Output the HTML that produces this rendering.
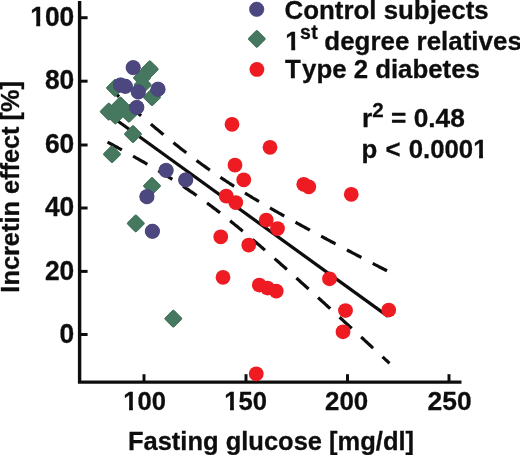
<!DOCTYPE html>
<html><head><meta charset="utf-8"><title>Incretin effect vs fasting glucose</title>
<style>html,body{margin:0;padding:0;background:#fff}svg{display:block}</style></head>
<body>
<svg width="520" height="455" viewBox="0 0 520 455">
<rect width="520" height="455" fill="#fff"/>
<defs><filter id="soft" x="0" y="0" width="520" height="455" filterUnits="userSpaceOnUse"><feGaussianBlur stdDeviation="0.4"/></filter><clipPath id="c0" clipPathUnits="userSpaceOnUse"><path clip-rule="evenodd" d="M-600,-600H1200V1200H-600Z M-44.38,-3.39H-38.04V1.20H-44.38Z M-34.11,-3.39H-28.10V1.20H-34.11Z"/></clipPath><clipPath id="c1" clipPathUnits="userSpaceOnUse"><path clip-rule="evenodd" d="M-600,-600H1200V1200H-600Z M122.86,406.69H129.07V411.20H122.86Z M132.88,406.69H138.77V411.20H132.88Z"/></clipPath><clipPath id="c2" clipPathUnits="userSpaceOnUse"><path clip-rule="evenodd" d="M-600,-600H1200V1200H-600Z M223.86,406.69H230.07V411.20H223.86Z M233.88,406.69H239.77V411.20H233.88Z"/></clipPath><clipPath id="c3" clipPathUnits="userSpaceOnUse"><path clip-rule="evenodd" d="M-600,-600H1200V1200H-600Z M284.95,46.93H291.27V51.50H284.95Z M295.16,46.93H301.14V51.50H295.16Z"/></clipPath><clipPath id="c4" clipPathUnits="userSpaceOnUse"><path clip-rule="evenodd" d="M-600,-600H1200V1200H-600Z M472.85,154.57H479.10V159.10H472.85Z M482.94,154.57H488.86V159.10H482.94Z"/></clipPath></defs><g filter="url(#soft)">
<g stroke="#111" stroke-width="3.4" fill="none" stroke-linecap="butt">
<path d="M79.6,1 V382.1 M77.9,382.1 H461.5"/>
<path stroke-width="3" d="M79.6,17.7 H87.6"/>
<path stroke-width="3" d="M79.6,81.2 H87.6"/>
<path stroke-width="3" d="M79.6,145 H87.6"/>
<path stroke-width="3" d="M79.6,208 H87.6"/>
<path stroke-width="3" d="M79.6,271.4 H87.6"/>
<path stroke-width="3" d="M79.6,334.5 H87.6"/>
<path stroke-width="3" d="M144,382.1 V374.2"/>
<path stroke-width="3" d="M246,382.1 V374.2"/>
<path stroke-width="3" d="M347.5,382.1 V374.2"/>
<path stroke-width="3" d="M449,382.1 V374.2"/>
</g>
<g stroke="#111" stroke-width="3.2" fill="none">
<path d="M107,113.3 L388,316.4"/>
<path stroke-dasharray="16.4 12.8" stroke-dashoffset="4.3" d="M110.0,88.7 L111.0,89.6 L112.0,90.5 L113.0,91.4 L114.0,92.3 L115.0,93.2 L116.0,94.0 L117.0,94.9 L118.0,95.8 L119.0,96.7 L120.0,97.6 L121.0,98.4 L122.0,99.3 L123.0,100.2 L124.0,101.1 L125.0,101.9 L126.0,102.8 L127.0,103.7 L128.0,104.6 L129.0,105.4 L130.0,106.3 L131.0,107.2 L132.0,108.0 L133.0,108.9 L134.0,109.8 L135.0,110.6 L136.0,111.5 L137.0,112.3 L138.0,113.2 L139.0,114.1 L140.0,114.9 L141.0,115.8 L142.0,116.6 L143.0,117.5 L144.0,118.3 L145.0,119.2 L146.0,120.0 L147.0,120.9 L148.0,121.7 L149.0,122.6 L150.0,123.4 L151.0,124.3 L152.0,125.1 L153.0,125.9 L154.0,126.8 L155.0,127.6 L156.0,128.5 L157.0,129.3 L158.0,130.1 L159.0,130.9 L160.0,131.8 L161.0,132.6 L162.0,133.4 L163.0,134.2 L164.0,135.1 L165.0,135.9 L166.0,136.7 L167.0,137.5 L168.0,138.3 L169.0,139.1 L170.0,139.9 L171.0,140.7 L172.0,141.5 L173.0,142.3 L174.0,143.1 L175.0,143.9 L176.0,144.7 L177.0,145.5 L178.0,146.3 L179.0,147.1 L180.0,147.9 L181.0,148.7 L182.0,149.5 L183.0,150.2 L184.0,151.0 L185.0,151.8 L186.0,152.5 L187.0,153.3 L188.0,154.1 L189.0,154.8 L190.0,155.6 L191.0,156.4 L192.0,157.1 L193.0,157.9 L194.0,158.6 L195.0,159.3 L196.0,160.1 L197.0,160.8 L198.0,161.6 L199.0,162.3 L200.0,163.0 L201.0,163.8 L202.0,164.5 L203.0,165.2 L204.0,165.9 L205.0,166.6 L206.0,167.4 L207.0,168.1 L208.0,168.8 L209.0,169.5 L210.0,170.2 L211.0,170.9 L212.0,171.6 L213.0,172.3 L214.0,173.0 L215.0,173.6 L216.0,174.3 L217.0,175.0 L218.0,175.7 L219.0,176.4 L220.0,177.0 L221.0,177.7 L222.0,178.4 L223.0,179.1 L224.0,179.7 L225.0,180.4 L226.0,181.0 L227.0,181.7 L228.0,182.3 L229.0,183.0 L230.0,183.6 L231.0,184.3 L232.0,184.9 L233.0,185.6 L234.0,186.2 L235.0,186.8 L236.0,187.5 L237.0,188.1 L238.0,188.7 L239.0,189.4 L240.0,190.0 L241.0,190.6 L242.0,191.2 L243.0,191.9 L244.0,192.5 L245.0,193.1 L246.0,193.7 L247.0,194.3 L248.0,194.9 L249.0,195.5 L250.0,196.1 L251.0,196.7 L252.0,197.4 L253.0,198.0 L254.0,198.6 L255.0,199.1 L256.0,199.7 L257.0,200.3 L258.0,200.9 L259.0,201.5 L260.0,202.1 L261.0,202.7 L262.0,203.3 L263.0,203.9 L264.0,204.5 L265.0,205.0 L266.0,205.6 L267.0,206.2 L268.0,206.8 L269.0,207.4 L270.0,207.9 L271.0,208.5 L272.0,209.1 L273.0,209.7 L274.0,210.2 L275.0,210.8 L276.0,211.4 L277.0,211.9 L278.0,212.5 L279.0,213.1 L280.0,213.6 L281.0,214.2 L282.0,214.8 L283.0,215.3 L284.0,215.9 L285.0,216.4 L286.0,217.0 L287.0,217.6 L288.0,218.1 L289.0,218.7 L290.0,219.2 L291.0,219.8 L292.0,220.3 L293.0,220.9 L294.0,221.4 L295.0,222.0 L296.0,222.5 L297.0,223.1 L298.0,223.6 L299.0,224.2 L300.0,224.7 L301.0,225.3 L302.0,225.8 L303.0,226.4 L304.0,226.9 L305.0,227.5 L306.0,228.0 L307.0,228.6 L308.0,229.1 L309.0,229.6 L310.0,230.2 L311.0,230.7 L312.0,231.3 L313.0,231.8 L314.0,232.3 L315.0,232.9 L316.0,233.4 L317.0,234.0 L318.0,234.5 L319.0,235.0 L320.0,235.6 L321.0,236.1 L322.0,236.6 L323.0,237.2 L324.0,237.7 L325.0,238.3 L326.0,238.8 L327.0,239.3 L328.0,239.9 L329.0,240.4 L330.0,240.9 L331.0,241.5 L332.0,242.0 L333.0,242.5 L334.0,243.0 L335.0,243.6 L336.0,244.1 L337.0,244.6 L338.0,245.2 L339.0,245.7 L340.0,246.2 L341.0,246.8 L342.0,247.3 L343.0,247.8 L344.0,248.3 L345.0,248.9 L346.0,249.4 L347.0,249.9 L348.0,250.5 L349.0,251.0 L350.0,251.5 L351.0,252.0 L352.0,252.6 L353.0,253.1 L354.0,253.6 L355.0,254.1 L356.0,254.7 L357.0,255.2 L358.0,255.7 L359.0,256.2 L360.0,256.7 L361.0,257.3 L362.0,257.8 L363.0,258.3 L364.0,258.8 L365.0,259.4 L366.0,259.9 L367.0,260.4 L368.0,260.9 L369.0,261.5 L370.0,262.0 L371.0,262.5 L372.0,263.0 L373.0,263.5 L374.0,264.1 L375.0,264.6 L376.0,265.1 L377.0,265.6 L378.0,266.1 L379.0,266.7 L380.0,267.2 L381.0,267.7 L382.0,268.2 L383.0,268.7 L384.0,269.3 L385.0,269.8 L386.0,270.3 L387.0,270.8"/>
<path stroke-dasharray="16.4 12.8" d="M107.5,142.1 L108.5,142.6 L109.5,143.2 L110.5,143.7 L111.5,144.3 L112.5,144.8 L113.5,145.3 L114.5,145.9 L115.5,146.4 L116.5,147.0 L117.5,147.5 L118.5,148.1 L119.5,148.6 L120.5,149.2 L121.5,149.7 L122.5,150.3 L123.5,150.8 L124.5,151.4 L125.5,151.9 L126.5,152.5 L127.5,153.0 L128.5,153.6 L129.5,154.1 L130.5,154.7 L131.5,155.2 L132.5,155.8 L133.5,156.4 L134.5,156.9 L135.5,157.5 L136.5,158.1 L137.5,158.6 L138.5,159.2 L139.5,159.8 L140.5,160.3 L141.5,160.9 L142.5,161.5 L143.5,162.0 L144.5,162.6 L145.5,163.2 L146.5,163.8 L147.5,164.4 L148.5,164.9 L149.5,165.5 L150.5,166.1 L151.5,166.7 L152.5,167.3 L153.5,167.9 L154.5,168.5 L155.5,169.0 L156.5,169.6 L157.5,170.2 L158.5,170.8 L159.5,171.4 L160.5,172.0 L161.5,172.6 L162.5,173.3 L163.5,173.9 L164.5,174.5 L165.5,175.1 L166.5,175.7 L167.5,176.3 L168.5,176.9 L169.5,177.6 L170.5,178.2 L171.5,178.8 L172.5,179.4 L173.5,180.1 L174.5,180.7 L175.5,181.4 L176.5,182.0 L177.5,182.6 L178.5,183.3 L179.5,183.9 L180.5,184.6 L181.5,185.2 L182.5,185.9 L183.5,186.6 L184.5,187.2 L185.5,187.9 L186.5,188.6 L187.5,189.2 L188.5,189.9 L189.5,190.6 L190.5,191.3 L191.5,191.9 L192.5,192.6 L193.5,193.3 L194.5,194.0 L195.5,194.7 L196.5,195.4 L197.5,196.1 L198.5,196.8 L199.5,197.5 L200.5,198.2 L201.5,199.0 L202.5,199.7 L203.5,200.4 L204.5,201.1 L205.5,201.9 L206.5,202.6 L207.5,203.3 L208.5,204.1 L209.5,204.8 L210.5,205.6 L211.5,206.3 L212.5,207.1 L213.5,207.8 L214.5,208.6 L215.5,209.3 L216.5,210.1 L217.5,210.9 L218.5,211.6 L219.5,212.4 L220.5,213.2 L221.5,214.0 L222.5,214.8 L223.5,215.5 L224.5,216.3 L225.5,217.1 L226.5,217.9 L227.5,218.7 L228.5,219.5 L229.5,220.3 L230.5,221.1 L231.5,221.9 L232.5,222.7 L233.5,223.5 L234.5,224.4 L235.5,225.2 L236.5,226.0 L237.5,226.8 L238.5,227.6 L239.5,228.5 L240.5,229.3 L241.5,230.1 L242.5,231.0 L243.5,231.8 L244.5,232.6 L245.5,233.5 L246.5,234.3 L247.5,235.2 L248.5,236.0 L249.5,236.8 L250.5,237.7 L251.5,238.5 L252.5,239.4 L253.5,240.2 L254.5,241.1 L255.5,242.0 L256.5,242.8 L257.5,243.7 L258.5,244.5 L259.5,245.4 L260.5,246.3 L261.5,247.1 L262.5,248.0 L263.5,248.9 L264.5,249.7 L265.5,250.6 L266.5,251.5 L267.5,252.3 L268.5,253.2 L269.5,254.1 L270.5,255.0 L271.5,255.8 L272.5,256.7 L273.5,257.6 L274.5,258.5 L275.5,259.4 L276.5,260.2 L277.5,261.1 L278.5,262.0 L279.5,262.9 L280.5,263.8 L281.5,264.7 L282.5,265.6 L283.5,266.4 L284.5,267.3 L285.5,268.2 L286.5,269.1 L287.5,270.0 L288.5,270.9 L289.5,271.8 L290.5,272.7 L291.5,273.6 L292.5,274.5 L293.5,275.4 L294.5,276.3 L295.5,277.2 L296.5,278.1 L297.5,279.0 L298.5,279.9 L299.5,280.8 L300.5,281.7 L301.5,282.6 L302.5,283.5 L303.5,284.4 L304.5,285.3 L305.5,286.2 L306.5,287.1 L307.5,288.0 L308.5,288.9 L309.5,289.8 L310.5,290.7 L311.5,291.6 L312.5,292.5 L313.5,293.4 L314.5,294.3 L315.5,295.2 L316.5,296.2 L317.5,297.1 L318.5,298.0 L319.5,298.9 L320.5,299.8 L321.5,300.7 L322.5,301.6 L323.5,302.5 L324.5,303.4 L325.5,304.4 L326.5,305.3 L327.5,306.2 L328.5,307.1 L329.5,308.0 L330.5,308.9 L331.5,309.8 L332.5,310.8 L333.5,311.7 L334.5,312.6 L335.5,313.5 L336.5,314.4 L337.5,315.3 L338.5,316.2 L339.5,317.2 L340.5,318.1 L341.5,319.0 L342.5,319.9 L343.5,320.8 L344.5,321.8 L345.5,322.7 L346.5,323.6 L347.5,324.5 L348.5,325.4 L349.5,326.3 L350.5,327.3 L351.5,328.2 L352.5,329.1 L353.5,330.0 L354.5,331.0 L355.5,331.9 L356.5,332.8 L357.5,333.7 L358.5,334.6 L359.5,335.6 L360.5,336.5 L361.5,337.4 L362.5,338.3 L363.5,339.2 L364.5,340.2 L365.5,341.1 L366.5,342.0 L367.5,342.9 L368.5,343.9 L369.5,344.8 L370.5,345.7 L371.5,346.6 L372.5,347.6 L373.5,348.5 L374.5,349.4 L375.5,350.3 L376.5,351.3 L377.5,352.2 L378.5,353.1 L379.5,354.0 L380.5,355.0 L381.5,355.9 L382.5,356.8 L383.5,357.7 L384.5,358.7 L385.5,359.6 L386.5,360.5 L387.5,361.4 L388.5,362.4 L389.5,363.3"/>
</g>
<rect x="143.4" y="62.9" width="12.7" height="12.7" rx="1.3" stroke="#335f49" stroke-width="0.7" fill="#44785e" transform="rotate(45 149.8 69.3)"/>
<rect x="135.6" y="71.6" width="12.7" height="12.7" rx="1.3" stroke="#335f49" stroke-width="0.7" fill="#44785e" transform="rotate(45 142 78)"/>
<rect x="108.6" y="81.6" width="12.7" height="12.7" rx="1.3" stroke="#335f49" stroke-width="0.7" fill="#44785e" transform="rotate(45 115 88)"/>
<rect x="136.3" y="78.6" width="12.7" height="12.7" rx="1.3" stroke="#335f49" stroke-width="0.7" fill="#44785e" transform="rotate(45 142.7 85)"/>
<rect x="145.6" y="90.9" width="12.7" height="12.7" rx="1.3" stroke="#335f49" stroke-width="0.7" fill="#44785e" transform="rotate(45 152 97.3)"/>
<rect x="113.9" y="99.1" width="12.7" height="12.7" rx="1.3" stroke="#335f49" stroke-width="0.7" fill="#44785e" transform="rotate(45 120.3 105.5)"/>
<rect x="102.4" y="105.3" width="12.7" height="12.7" rx="1.3" stroke="#335f49" stroke-width="0.7" fill="#44785e" transform="rotate(45 108.8 111.7)"/>
<rect x="108.9" y="109.2" width="12.7" height="12.7" rx="1.3" stroke="#335f49" stroke-width="0.7" fill="#44785e" transform="rotate(45 115.3 115.6)"/>
<rect x="122.5" y="107.4" width="12.7" height="12.7" rx="1.3" stroke="#335f49" stroke-width="0.7" fill="#44785e" transform="rotate(45 128.9 113.8)"/>
<rect x="126.6" y="127.8" width="12.7" height="12.7" rx="1.3" stroke="#335f49" stroke-width="0.7" fill="#44785e" transform="rotate(45 133 134.2)"/>
<rect x="105.6" y="147.9" width="12.7" height="12.7" rx="1.3" stroke="#335f49" stroke-width="0.7" fill="#44785e" transform="rotate(45 112 154.3)"/>
<rect x="145.6" y="179.6" width="12.7" height="12.7" rx="1.3" stroke="#335f49" stroke-width="0.7" fill="#44785e" transform="rotate(45 152 186)"/>
<rect x="129.4" y="217.1" width="12.7" height="12.7" rx="1.3" stroke="#335f49" stroke-width="0.7" fill="#44785e" transform="rotate(45 135.8 223.5)"/>
<rect x="166.9" y="312.3" width="12.7" height="12.7" rx="1.3" stroke="#335f49" stroke-width="0.7" fill="#44785e" transform="rotate(45 173.3 318.7)"/>
<rect x="143.4" y="62.9" width="12.7" height="12.7" rx="1.3" fill="#44785e" transform="rotate(45 149.8 69.3)"/>
<rect x="135.6" y="71.6" width="12.7" height="12.7" rx="1.3" fill="#44785e" transform="rotate(45 142 78)"/>
<rect x="108.6" y="81.6" width="12.7" height="12.7" rx="1.3" fill="#44785e" transform="rotate(45 115 88)"/>
<rect x="136.3" y="78.6" width="12.7" height="12.7" rx="1.3" fill="#44785e" transform="rotate(45 142.7 85)"/>
<rect x="145.6" y="90.9" width="12.7" height="12.7" rx="1.3" fill="#44785e" transform="rotate(45 152 97.3)"/>
<rect x="113.9" y="99.1" width="12.7" height="12.7" rx="1.3" fill="#44785e" transform="rotate(45 120.3 105.5)"/>
<rect x="102.4" y="105.3" width="12.7" height="12.7" rx="1.3" fill="#44785e" transform="rotate(45 108.8 111.7)"/>
<rect x="108.9" y="109.2" width="12.7" height="12.7" rx="1.3" fill="#44785e" transform="rotate(45 115.3 115.6)"/>
<rect x="122.5" y="107.4" width="12.7" height="12.7" rx="1.3" fill="#44785e" transform="rotate(45 128.9 113.8)"/>
<rect x="126.6" y="127.8" width="12.7" height="12.7" rx="1.3" fill="#44785e" transform="rotate(45 133 134.2)"/>
<rect x="105.6" y="147.9" width="12.7" height="12.7" rx="1.3" fill="#44785e" transform="rotate(45 112 154.3)"/>
<rect x="145.6" y="179.6" width="12.7" height="12.7" rx="1.3" fill="#44785e" transform="rotate(45 152 186)"/>
<rect x="129.4" y="217.1" width="12.7" height="12.7" rx="1.3" fill="#44785e" transform="rotate(45 135.8 223.5)"/>
<rect x="166.9" y="312.3" width="12.7" height="12.7" rx="1.3" fill="#44785e" transform="rotate(45 173.3 318.7)"/>
<circle cx="133.2" cy="67.6" r="7.2" fill="#4d4680" stroke="#3d3770" stroke-width="0.6"/>
<circle cx="120.6" cy="85" r="7.2" fill="#4d4680" stroke="#3d3770" stroke-width="0.6"/>
<circle cx="125.3" cy="86.3" r="7.2" fill="#4d4680" stroke="#3d3770" stroke-width="0.6"/>
<circle cx="138.3" cy="92" r="7.2" fill="#4d4680" stroke="#3d3770" stroke-width="0.6"/>
<circle cx="158" cy="89.2" r="7.2" fill="#4d4680" stroke="#3d3770" stroke-width="0.6"/>
<circle cx="136.8" cy="107.4" r="7.2" fill="#4d4680" stroke="#3d3770" stroke-width="0.6"/>
<circle cx="166.1" cy="170.4" r="7.2" fill="#4d4680" stroke="#3d3770" stroke-width="0.6"/>
<circle cx="185.7" cy="179.9" r="7.2" fill="#4d4680" stroke="#3d3770" stroke-width="0.6"/>
<circle cx="146.9" cy="196.7" r="7.2" fill="#4d4680" stroke="#3d3770" stroke-width="0.6"/>
<circle cx="152.4" cy="231.3" r="7.2" fill="#4d4680" stroke="#3d3770" stroke-width="0.6"/>
<circle cx="133.2" cy="67.6" r="7.2" fill="#4d4680"/>
<circle cx="120.6" cy="85" r="7.2" fill="#4d4680"/>
<circle cx="125.3" cy="86.3" r="7.2" fill="#4d4680"/>
<circle cx="138.3" cy="92" r="7.2" fill="#4d4680"/>
<circle cx="158" cy="89.2" r="7.2" fill="#4d4680"/>
<circle cx="136.8" cy="107.4" r="7.2" fill="#4d4680"/>
<circle cx="166.1" cy="170.4" r="7.2" fill="#4d4680"/>
<circle cx="185.7" cy="179.9" r="7.2" fill="#4d4680"/>
<circle cx="146.9" cy="196.7" r="7.2" fill="#4d4680"/>
<circle cx="152.4" cy="231.3" r="7.2" fill="#4d4680"/>
<circle cx="232" cy="124.35" r="7.4" fill="#ee1c24"/>
<circle cx="270" cy="147.35" r="7.4" fill="#ee1c24"/>
<circle cx="235" cy="165.1" r="7.4" fill="#ee1c24"/>
<circle cx="243.75" cy="179.85" r="7.4" fill="#ee1c24"/>
<circle cx="303.75" cy="184.35" r="7.4" fill="#ee1c24"/>
<circle cx="308.75" cy="186.85" r="7.4" fill="#ee1c24"/>
<circle cx="226.25" cy="196.1" r="7.4" fill="#ee1c24"/>
<circle cx="235.75" cy="202.6" r="7.4" fill="#ee1c24"/>
<circle cx="266.25" cy="220.1" r="7.4" fill="#ee1c24"/>
<circle cx="277.5" cy="228.6" r="7.4" fill="#ee1c24"/>
<circle cx="220.75" cy="236.85" r="7.4" fill="#ee1c24"/>
<circle cx="248.75" cy="245.1" r="7.4" fill="#ee1c24"/>
<circle cx="223" cy="277.35" r="7.4" fill="#ee1c24"/>
<circle cx="259.3" cy="285.1" r="7.4" fill="#ee1c24"/>
<circle cx="267.5" cy="288.1" r="7.4" fill="#ee1c24"/>
<circle cx="276.25" cy="291.1" r="7.4" fill="#ee1c24"/>
<circle cx="351.25" cy="194.35" r="7.4" fill="#ee1c24"/>
<circle cx="329.5" cy="278.85" r="7.4" fill="#ee1c24"/>
<circle cx="345.5" cy="310.6" r="7.4" fill="#ee1c24"/>
<circle cx="343" cy="331.85" r="7.4" fill="#ee1c24"/>
<circle cx="388.75" cy="310.1" r="7.4" fill="#ee1c24"/>
<circle cx="256.25" cy="373.8" r="7.4" fill="#ee1c24"/>
<circle cx="256.7" cy="9.3" r="7.2" fill="#4d4680" stroke="#3d3770" stroke-width="0.6"/>
<rect x="250.4" y="32.6" width="12.7" height="12.7" rx="1.3" stroke="#335f49" stroke-width="0.7" fill="#44785e" transform="rotate(45 256.8 39.0)"/>
<circle cx="256.9" cy="69.4" r="7.4" fill="#ee1c24"/>
<g font-family="'Liberation Sans', Arial, Helvetica, sans-serif" font-weight="bold" font-size="25.5" fill="#111" stroke="#111" stroke-width="0.3" stroke-linejoin="round" style="font-kerning:none">
<text transform="translate(74.3 25.9) scale(1 1.055)" text-anchor="end" font-size="26.4" clip-path="url(#c0)">100</text>
<text transform="translate(74.3 89.4) scale(1 1.055)" text-anchor="end" font-size="26.4" >80</text>
<text transform="translate(74.3 152.9) scale(1 1.055)" text-anchor="end" font-size="26.4" >60</text>
<text transform="translate(74.3 216.4) scale(1 1.055)" text-anchor="end" font-size="26.4" >40</text>
<text transform="translate(74.3 279.9) scale(1 1.055)" text-anchor="end" font-size="26.4" >20</text>
<text transform="translate(74.3 342.9) scale(1 1.055)" text-anchor="end" font-size="26.4" >0</text>
<text x="144.6" y="410.2" text-anchor="middle" font-size="25.6" clip-path="url(#c1)">100</text>
<text x="245.6" y="410.2" text-anchor="middle" font-size="25.6" clip-path="url(#c2)">150</text>
<text x="346.6" y="410.2" text-anchor="middle" font-size="25.9" >200</text>
<text x="449.6" y="410.2" text-anchor="middle" font-size="26.4" >250</text>
<text x="271" y="449.5" text-anchor="middle">Fasting glucose [mg/dl]</text>
<text transform="translate(18.6 186.8) rotate(-90)" text-anchor="middle" font-size="25.35">Incretin effect<tspan dx="-1"> [%]</tspan></text>
<text x="284.5" y="18.8" font-size="25.88">Control subjects</text>
<text x="285.3" y="50.3" font-size="26.2" clip-path="url(#c3)">1<tspan font-size="19.5" dy="-11.6" letter-spacing="0.5">st</tspan><tspan dy="11.6" x="324.3" font-size="25.95">degree relatives</tspan></text>
<text x="285" y="77.7" font-size="25.8">T<tspan dx="1.3">ype 2 diabetes</tspan></text>
<text x="362" y="127.4" font-size="26.3">r<tspan font-size="20.6" dy="-10.8">2</tspan><tspan dy="10.8"> = 0.48</tspan></text>
<text x="361.5" y="157.9" font-size="25.8" word-spacing="1" clip-path="url(#c4)">p &lt; 0.0001</text>
</g>
</g>
</svg>
</body></html>
